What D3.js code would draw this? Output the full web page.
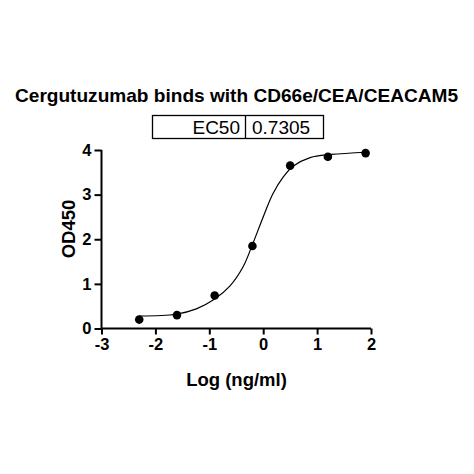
<!DOCTYPE html>
<html>
<head>
<meta charset="utf-8">
<script src="https://cdn.jsdelivr.net/npm/d3@7"></script>
<style>
  body { margin: 0; background: #fff; }
  svg { display: block; font-family: Arial, "Liberation Sans", sans-serif; }
</style>
</head>
<body>
<svg id="chart" width="474" height="474"></svg>
<script>
// measured points (log concentration, OD450)
var logConc = [-2.3, -1.6, -0.9, -0.2, 0.5, 1.2, 1.9];
var od450 = [0.2, 0.3, 0.74, 1.85, 3.65, 3.85, 3.93];

// fitted curve
var fitX = [-2.3, -1.62, -1.24, -0.9, -0.62, -0.37, -0.19, 0.0, 0.18, 0.37, 0.56, 0.87, 1.26, 1.92];
var fitY = [0.28, 0.32, 0.44, 0.66, 0.95, 1.39, 1.91, 2.5, 3.02, 3.39, 3.64, 3.83, 3.9, 3.95];

var xTicks = [-3, -2, -1, 0, 1, 2];
var yTicks = [0, 1, 2, 3, 4];

var title = "Cergutuzumab binds with CD66e/CEA/CEACAM5";
var ec50Label = "EC50";
var ec50Value = "0.7305";

var svg = d3.select('#chart');

var x = d3.scaleLinear().domain([-3, 2]).range([101.5, 371]);
var y = d3.scaleLinear().domain([0, 4]).range([328.5, 150]);

// title
svg.append('text')
    .attr('x', 236.5)
    .attr('y', 102)
    .attr('text-anchor', 'middle')
    .attr('font-size', 18.5)
    .attr('font-weight', 'bold')
    .attr('textLength', 443)
    .attr('lengthAdjust', 'spacingAndGlyphs')
    .text(title);

// EC50 table
var box = svg.append('g');
box.append('rect')
    .attr('x', 152.5).attr('y', 115.5)
    .attr('width', 171).attr('height', 23)
    .attr('fill', 'none').attr('stroke', '#000').attr('stroke-width', 1.3);
box.append('line')
    .attr('x1', 245.5).attr('x2', 245.5).attr('y1', 115.5).attr('y2', 138.5)
    .attr('stroke', '#000').attr('stroke-width', 1.3);
box.append('text')
    .attr('x', 240).attr('y', 134)
    .attr('text-anchor', 'end')
    .attr('font-size', 19)
    .text(ec50Label);
box.append('text')
    .attr('x', 252).attr('y', 134)
    .attr('font-size', 19)
    .text(ec50Value);

// axes (plain hyphen for negatives, like the original)
var fmt = function (d) { return String(d); };
var xAxis = d3.axisBottom(x).tickValues(xTicks).tickSize(6).tickPadding(4).tickFormat(fmt);
var yAxis = d3.axisLeft(y).tickValues(yTicks).tickSize(7).tickPadding(3).tickFormat(fmt);

var gx = svg.append('g')
    .attr('transform', 'translate(0,' + y(0) + ')')
    .call(xAxis);
var gy = svg.append('g')
    .attr('transform', 'translate(' + x(-3) + ',0)')
    .call(yAxis);

[gx, gy].forEach(function (g) {
    g.select('.domain').attr('stroke-width', 2).attr('stroke', '#000');
    g.selectAll('.tick line').attr('stroke-width', 2).attr('stroke', '#000');
    g.selectAll('.tick text')
        .attr('font-size', 16.5)
        .attr('font-weight', 'bold')
        .attr('fill', '#000')
        .attr('font-family', 'Arial, "Liberation Sans", sans-serif');
});
gx.select('.domain').attr('d', 'M' + x(-3) + ',0H' + x(2));
gy.select('.domain').attr('d', 'M0,' + y(0) + 'V' + y(4));

// axis titles
svg.append('text')
    .attr('x', 236.5)
    .attr('y', 386)
    .attr('text-anchor', 'middle')
    .attr('font-size', 18.5)
    .attr('font-weight', 'bold')
    .text('Log (ng/ml)');

svg.append('text')
    .attr('transform', 'translate(75,229) rotate(-90)')
    .attr('text-anchor', 'middle')
    .attr('font-size', 18.5)
    .attr('font-weight', 'bold')
    .text('OD450');

// fitted curve
var line = d3.line()
    .x(function (d) { return x(d[0]); })
    .y(function (d) { return y(d[1]); })
    .curve(d3.curveCatmullRom.alpha(0.5));

svg.append('path')
    .datum(d3.zip(fitX, fitY))
    .attr('d', line)
    .attr('fill', 'none')
    .attr('stroke', '#000')
    .attr('stroke-width', 1.2);

// points
svg.append('g').selectAll('circle')
    .data(d3.zip(logConc, od450))
    .enter()
    .append('circle')
    .attr('cx', function (d) { return x(d[0]); })
    .attr('cy', function (d) { return y(d[1]); })
    .attr('r', 4.3)
    .attr('fill', '#000');
</script>
</body>
</html>
